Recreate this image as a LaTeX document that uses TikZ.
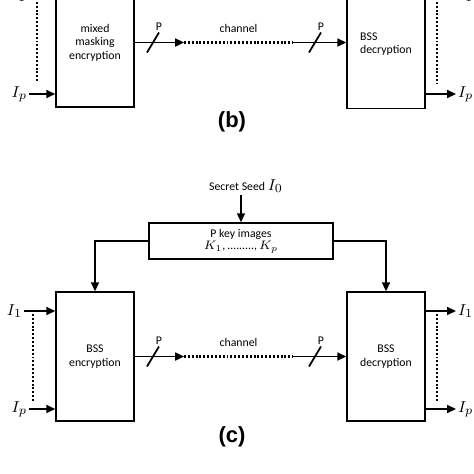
\documentclass[tikz,border=0pt]{standalone}
\usepackage{amsmath,amssymb}
\usepackage{fontspec}
\setmainfont{Carlito}
\newfontfamily\capfont{Liberation Sans}
\usepackage{tikz}
\usetikzlibrary{arrows.meta}
\tikzset{
blk/.style = {rectangle, draw=black, line width=0.9pt, minimum width=#1, minimum height=2.58cm, align=center, inner sep=1pt, font=\fontsize{6.7}{7.7}\selectfont},
blk/.default = 1.56cm, % width of the coder boxes
txt/.style = {inner sep=1pt, font=\fontsize{6.7}{7.7}\selectfont},
mlab/.style = {inner sep=1pt, font=\fontsize{9.5}{10}\selectfont},
figcap/.style = {inner sep=0pt, font=\fontsize{12.5}{14}\capfont\bfseries},
dotline/.style = {line width=1.2pt, dash pattern=on 1.1pt off 1.1pt},
}

\begin{document}
\begin{tikzpicture}[x=0.02cm, y=-0.02cm]
  \useasboundingbox (0,0) rectangle (474,474);

  % Boxes
    \node[blk] (encB) at (95,42.5) {mixed\\masking\\encryption};
    \node[blk, align=left] (decB) at (386,44) {BSS\\decryption};
    \node[blk] (encC) at (95,356.5) {BSS\\encryption};
    \node[blk] (decC) at (386,356.5) {BSS\\decryption};
    \node[blk=3.68cm, minimum height=0.72cm] (keys) at (241,241) {P key images\\[-1pt] $K_1$,\,.........,\,$K_p$};

  % Labels
    \node[txt] (seed) at (246,186) {Secret Seed {\fontsize{9.5}{10}\selectfont$I_0$}};
    \node[figcap] (capB) at (232,122) {(b)};
    \node[figcap] (capC) at (232,437) {(c)};

    \node[mlab, anchor=east] (inB1) at (28,-5) {$I_1$};
    \node[mlab, anchor=east] (inBp) at (29,94) {$I_p$};
    \node[mlab, anchor=west] (outB1) at (456,-5) {$I_1$};
    \node[mlab, anchor=west] (outBp) at (456,94) {$I_p$};
    \node[mlab, anchor=east] (inC1) at (24,311) {$I_1$};
    \node[mlab, anchor=east] (inCp) at (29,409) {$I_p$};
    \node[mlab, anchor=west] (outC1) at (456,311) {$I_1$};
    \node[mlab, anchor=west] (outCp) at (456,409) {$I_p$};

  % Node
    \coordinate (tipB) at (184,42.5);
    \coordinate (endB) at (293,42.5);
    \coordinate (tipC) at (184,356.5);
    \coordinate (endC) at (293,356.5);
    \coordinate (slB1) at (153,42.5);
    \coordinate (slB2) at (315,42.5);
    \coordinate (slC1) at (153,356.5);
    \coordinate (slC2) at (315,356.5);
    \coordinate (dlB) at (37,-2);   \coordinate (dlBe) at (37,83);
    \coordinate (drB) at (437,-2);  \coordinate (drBe) at (437,84);
    \coordinate (dlC) at (33,314);  \coordinate (dlCe) at (33,401);
    \coordinate (drC) at (437,314); \coordinate (drCe) at (437,401);

  % Lines
    \draw[line width=1.1pt, -{Triangle[length=5pt,width=4.5pt]}] (encB) -- (tipB);
    \draw[dotline] (tipB) -- node[txt, above=4pt] {channel} (endB);
    \draw[line width=1.1pt, -{Triangle[length=5pt,width=4.5pt]}] (endB) -- (decB.west |- endB);
    \draw[line width=1.1pt, -{Triangle[length=5pt,width=4.5pt]}] (encC) -- (tipC);
    \draw[dotline] (tipC) -- node[txt, above=4pt] {channel} (endC);
    \draw[line width=1.1pt, -{Triangle[length=5pt,width=4.5pt]}] (endC) -- (decC);

    \foreach \s in {slB1,slB2,slC1,slC2}
      \draw[line width=1pt] (\s) ++(-6,10) -- ++(12,-20) node[txt, above, inner sep=0.5pt] {P};

    \draw[line width=0.8pt, -{Triangle[length=5pt,width=4.5pt]}] (inB1) -- (inB1 -| encB.west);
    \draw[line width=0.8pt, -{Triangle[length=5pt,width=4.5pt]}] (inBp) -- (inBp -| encB.west);
    \draw[line width=0.8pt, -{Triangle[length=5pt,width=4.5pt]}] (decB.east |- outB1) -- (outB1);
    \draw[line width=0.8pt, -{Triangle[length=5pt,width=4.5pt]}] (decB.east |- outBp) -- (outBp);
    \draw[line width=0.8pt, -{Triangle[length=5pt,width=4.5pt]}] (inC1) -- (inC1 -| encC.west);
    \draw[line width=0.8pt, -{Triangle[length=5pt,width=4.5pt]}] (inCp) -- (inCp -| encC.west);
    \draw[line width=0.8pt, -{Triangle[length=5pt,width=4.5pt]}] (decC.east |- outC1) -- (outC1);
    \draw[line width=0.8pt, -{Triangle[length=5pt,width=4.5pt]}] (decC.east |- outCp) -- (outCp);

    \draw[dotline] (dlB) -- (dlBe);
    \draw[dotline] (drB) -- (drBe);
    \draw[dotline] (dlC) -- (dlCe);
    \draw[dotline] (drC) -- (drCe);

    \draw[line width=1pt, -{Triangle[length=5pt,width=4.5pt]}] (seed.south -| keys.north) -- (keys.north);
    \draw[line width=1.1pt, -{Triangle[length=5pt,width=4.5pt]}] (keys.west) -| (encC.north);
    \draw[line width=1.1pt, -{Triangle[length=5pt,width=4.5pt]}] (keys.east) -| (decC.north);
\end{tikzpicture}
\end{document}
